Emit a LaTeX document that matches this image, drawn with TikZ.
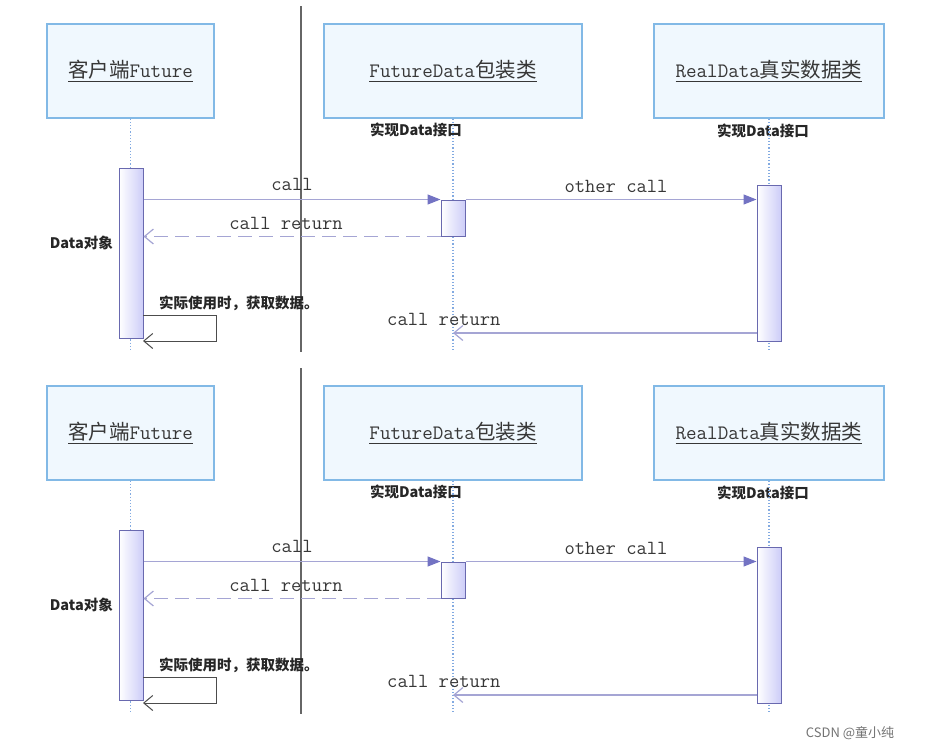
\documentclass[tikz,border=0pt]{standalone}
\usepackage{fontspec}
\newfontfamily\cjk{Noto Sans CJK SC}
\usetikzlibrary{arrows.meta}
\definecolor{boxline}{RGB}{130,185,230}
\definecolor{boxfill}{RGB}{240,248,254}
\definecolor{barline}{RGB}{105,105,175}
\definecolor{barfill}{RGB}{205,205,248}
\definecolor{msgline}{RGB}{165,165,212}
\definecolor{msghead}{RGB}{115,115,195}
\definecolor{lifeline}{RGB}{130,170,225}
\definecolor{txtgray}{RGB}{55,55,55}
\tikzset{
  objbox/.style={draw=boxline, line width=1.2pt, fill=boxfill, minimum height=94pt, inner sep=0pt,
    font=\fontsize{20.5}{21}\selectfont\ttfamily, text=txtgray},
  actbar/.style={draw=barline, line width=1pt, left color=white, right color=barfill, minimum width=24pt, inner sep=0pt},
  lifeln/.style={lifeline, dotted, line width=1.2pt},
  sepline/.style={draw=black!60, line width=2pt},
  callarrow/.style={msgline, line width=1.2pt, -{Triangle[length=13pt,width=10pt,color=msghead]}},
  retarrow/.style={msgline, line width=1.2pt, -{Straight Barb[length=9pt,width=15pt]}},
  selfln/.style={black!70, line width=1pt, -{Straight Barb[length=9pt,width=15pt]}},
  msglbl/.style={font=\fontsize{20}{20}\selectfont\ttfamily, text=txtgray},
  notelbl/.style={font=\fontsize{14.5}{15}\selectfont\cjk\bfseries, text=black!85, inner sep=0pt}
}
\begin{document}
\begin{tikzpicture}[x=1pt, y=-1pt]
\useasboundingbox (0,0) rectangle (926,750);
\foreach \o/\s in {0/a, 362/b}{
  % Draw separator
  \draw[sepline] (301,6+\o) -- (301,352+\o);
  % Draw object boxes
  \node[objbox, minimum width=167pt] (cli\s) at (130.5,71+\o) {\underline{{\cjk 客户端}Future}};
  \node[objbox, minimum width=258pt] (wrap\s) at (453,71+\o) {\underline{FutureData{\cjk 包装类}}};
  \node[objbox, minimum width=230pt] (real\s) at (769,71+\o) {\underline{RealData{\cjk 真实数据类}}};
  \node[notelbl] (ifw\s) at (416,130+\o) {实现Data接口};
  \node[notelbl] (ifr\s) at (763,131+\o) {实现Data接口};
  % Draw lifelines
  \coordinate (cliend\s) at (130.5,352+\o);
  \coordinate (wrapend\s) at (453,352+\o);
  \coordinate (realend\s) at (769,352+\o);
  \draw[lifeln] (cli\s.south) -- (cliend\s);
  \draw[lifeln] (wrap\s.south) -- (wrapend\s);
  \draw[lifeln] (real\s.south) -- (realend\s);
  % Draw activation bars
  \node[actbar, minimum height=170pt] (bar1\s) at (131,253+\o) {};
  \node[actbar, minimum height=36pt] (bar2\s) at (453,218+\o) {};
  \node[actbar, minimum height=156pt] (bar3\s) at (769,263+\o) {};
  \node[notelbl, anchor=east] (obj\s) at (113,243+\o) {Data对象};
  % Draw messages
  \draw[callarrow] (bar2\s.north west -| bar1\s.east) -- (bar2\s.north west)
    node[msglbl, midway, above, yshift=5pt] {call};
  \draw[retarrow, dash pattern=on 14pt off 7pt] (bar2\s.south west) -- (bar2\s.south west -| bar1\s.east)
    node[msglbl, midway, above, xshift=-6pt, yshift=3pt] {call return};
  \draw[callarrow] (bar2\s.north east) -- (bar2\s.north east -| bar3\s.west)
    node[msglbl, midway, above, xshift=5pt, yshift=3pt] {other call};
  \coordinate (rs\s) at (757,333+\o);
  \coordinate (re\s) at (453,333+\o);
  \draw[retarrow] (rs\s) -- (re\s) node[msglbl, pos=1.03, above, yshift=3pt] {call return};
  % Draw self call
  \coordinate (s1\s) at (143,315+\o);
  \coordinate (s2\s) at (216,315+\o);
  \coordinate (s3\s) at (216,341+\o);
  \coordinate (s4\s) at (143,341+\o);
  \draw[selfln] (s1\s) -- (s2\s) -- (s3\s) -- (s4\s);
  \node[notelbl, anchor=west] (use\s) at (159,303+\o) {实际使用时，获取数据。};
}
\node[font=\fontsize{13}{13}\selectfont\cjk, text=black!55] (mark) at (850,733) {CSDN @童小纯};
\end{tikzpicture}
\end{document}
